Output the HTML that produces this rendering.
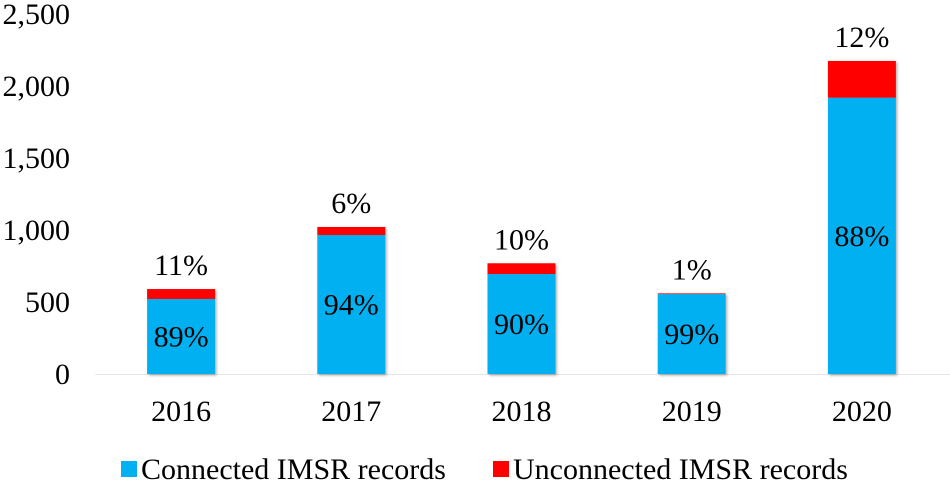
<!DOCTYPE html>
<html><head><meta charset="utf-8"><style>
html,body{margin:0;padding:0;background:#fff;}
svg text{font-family:"Liberation Serif",serif;fill:#000;}
</style></head><body>
<svg id="chart" width="950" height="487" viewBox="0 0 950 487" xmlns="http://www.w3.org/2000/svg">
<defs><filter id="sh" x="-10%" y="-10%" width="130%" height="130%"><feDropShadow dx="1.5" dy="1.5" stdDeviation="1.2" flood-color="#000" flood-opacity="0.3"/></filter></defs>
<g id="yaxis"></g>
<line x1="95" y1="374.5" x2="950" y2="374.5" stroke="#e6e6e6" stroke-width="1"/>
<g id="bars"></g>
<g>
<rect x="121" y="461" width="16" height="16" fill="#00b0f0"/>
<text x="141" y="479" font-size="30">Connected IMSR records</text>
<rect x="493" y="461" width="16" height="16" fill="#ff0000"/>
<text x="513" y="479" font-size="30">Unconnected IMSR records</text>
</g>
</svg>
<script>
const categories = ["2016","2017","2018","2019","2020"];
const connected = [521, 965, 694, 555, 1919];
const unconnected = [69, 56, 75, 5, 255];
const connectedPct = ["89%","94%","90%","99%","88%"];
const unconnectedPct = ["11%","6%","10%","1%","12%"];
const yTicks = [0,500,1000,1500,2000,2500];
const yTickLabels = ["0","500","1,000","1,500","2,000","2,500"];

const NS="http://www.w3.org/2000/svg";
const y0=374, pxPer=360/2500;
function yScale(v){return y0 - v*pxPer;}
const x0=95, step=170.2, barW=68;
function xCenter(i){return x0 + step*(i+0.5)+1;}
function mk(tag,attrs,parent,txt){const e=document.createElementNS(NS,tag);for(const k in attrs)e.setAttribute(k,attrs[k]);if(txt!==undefined)e.textContent=txt;parent.appendChild(e);return e;}

const ya=document.getElementById('yaxis');
yTicks.forEach((t,i)=>{
  const e=mk('text',{x:70,y:yScale(t)+10,'font-size':30,'text-anchor':'end'},ya,yTickLabels[i]);
  
  
});
const bg=document.getElementById('bars');
categories.forEach((c,i)=>{
  const cx=xCenter(i), x=cx-barW/2;
  const total=connected[i]+unconnected[i];
  const g=mk('g',{filter:'url(#sh)'},bg);
  
  
  const b=mk('rect',{x:x,y:yScale(connected[i]),width:barW,height:connected[i]*pxPer,fill:'#00b0f0'},g);
  
  
  const r=mk('rect',{x:x,y:yScale(total),width:barW,height:unconnected[i]*pxPer,fill:'#ff0000'},g);
  
  
  const t1=mk('text',{x:cx,y:yScale(total)-14,'font-size':30,'text-anchor':'middle'},bg,unconnectedPct[i]);
  
  
  const t2=mk('text',{x:cx,y:yScale(connected[i]/2)+10,'font-size':30,'text-anchor':'middle'},bg,connectedPct[i]);
  
  
  const t3=mk('text',{x:cx,y:421,'font-size':30,'text-anchor':'middle'},bg,c);
  
  
});
</script>
</body></html>
